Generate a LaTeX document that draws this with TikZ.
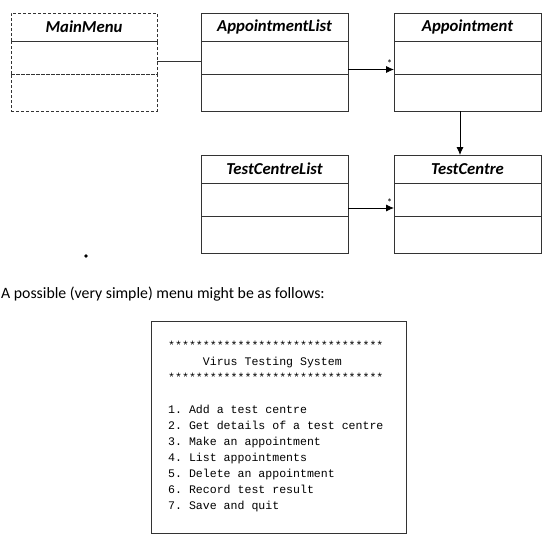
\documentclass[tikz,border=0pt]{standalone}
\usepackage{fontspec}
\setmainfont{Carlito}
\setmonofont{Liberation Mono}
\usetikzlibrary{positioning,arrows.meta}

\begin{document}
\begin{tikzpicture}[x=1pt,y=-1pt,
	umlbox/.style={draw=black!80, line width=0.8pt, minimum width=147pt, inner sep=0pt, outer sep=0pt},
	umltitle/.style={umlbox, minimum height=28pt, font=\fontsize{16.7}{18}\selectfont\bfseries\itshape},
	umlpart/.style={umlbox, minimum height=#1},
	menudash/.style={dash pattern=on 3pt off 2pt},
	link/.style={line width=0.8pt, -{Latex[length=8pt,width=7pt]}},
	mult/.style={font=\fontsize{11}{11}\selectfont, inner sep=1.2pt},
	menuline/.style={anchor=base west, inner sep=0pt, font=\ttfamily\fontsize{11.57}{16}\selectfont}]
	\useasboundingbox (0,0) rectangle (553,536);
	
	% top row
	\node[umltitle, menudash, minimum width=146pt, anchor=north west] (mmtitle) at (11,13) {MainMenu};
	\node[umlpart=33pt, menudash, minimum width=146pt, below=0pt of mmtitle] (mmattr) {};
	\node[umlpart=37pt, menudash, minimum width=146pt, below=0pt of mmattr] (mmops) {};
	
	\node[umltitle, anchor=north west] (altitle) at (201,13) {AppointmentList};
	\node[umlpart=33pt, below=0pt of altitle] (alattr) {};
	\node[umlpart=37pt, below=0pt of alattr] (alops) {};
	
	\node[umltitle, anchor=north west] (aptitle) at (394,13) {Appointment};
	\node[umlpart=33pt, below=0pt of aptitle] (apattr) {};
	\node[umlpart=37pt, below=0pt of apattr] (apops) {};
	
	% bottom row
	\node[umltitle, anchor=north west] (tltitle) at (201,155) {TestCentreList};
	\node[umlpart=33pt, below=0pt of tltitle] (tlattr) {};
	\node[umlpart=37pt, below=0pt of tlattr] (tlops) {};
	
	\node[umltitle, anchor=north west] (tctitle) at (394,155) {TestCentre};
	\node[umlpart=33pt, below=0pt of tctitle] (tcattr) {};
	\node[umlpart=37pt, below=0pt of tcattr] (tcops) {};
	
	% links
	\draw[line width=0.8pt, black!80] ([yshift=-4pt]mmattr.east) -- ([yshift=-4pt]alattr.west);
	\draw[link] ([yshift=-12pt]alattr.east) -- ([yshift=-12pt]apattr.west)
		node[pos=1, mult, anchor=south east] (apmult) {*};
	\draw[link] ([xshift=-7.5pt]apops.south) -- ([xshift=-7.5pt]tctitle.north);
	\draw[link] ([yshift=-8.5pt]tlattr.east) -- ([yshift=-8.5pt]tcattr.west)
		node[pos=1, mult, anchor=south east] (tcmult) {*};
	
	\node[circle, fill, inner sep=1.4pt] (dot) at (86,256) {};
	
	\node[anchor=base west, inner sep=0pt, font=\fontsize{15.8}{18}\selectfont] (intro) at (1,298) {A possible (very simple) menu might be as follows:};
	
	% menu
	\node[draw=black!80, line width=0.8pt, minimum width=255pt, minimum height=212pt, anchor=north west] (menu) at (151,321) {};
	\node[menuline] (starsa) at (168,349) {*******************************};
	\node[menuline] (menutitle) at (168,365) {\ \ \ \ \ Virus Testing System};
	\node[menuline] (starsb) at (168,381) {*******************************};
	\foreach \item [count=\k] in {Add a test centre, Get details of a test centre, Make an appointment, List appointments, Delete an appointment, Record test result, Save and quit}
		\node[menuline] (menuitem\k) at (168,{413+16*(\k-1)}) {\k.\ \item};
	
\end{tikzpicture}
\end{document}
